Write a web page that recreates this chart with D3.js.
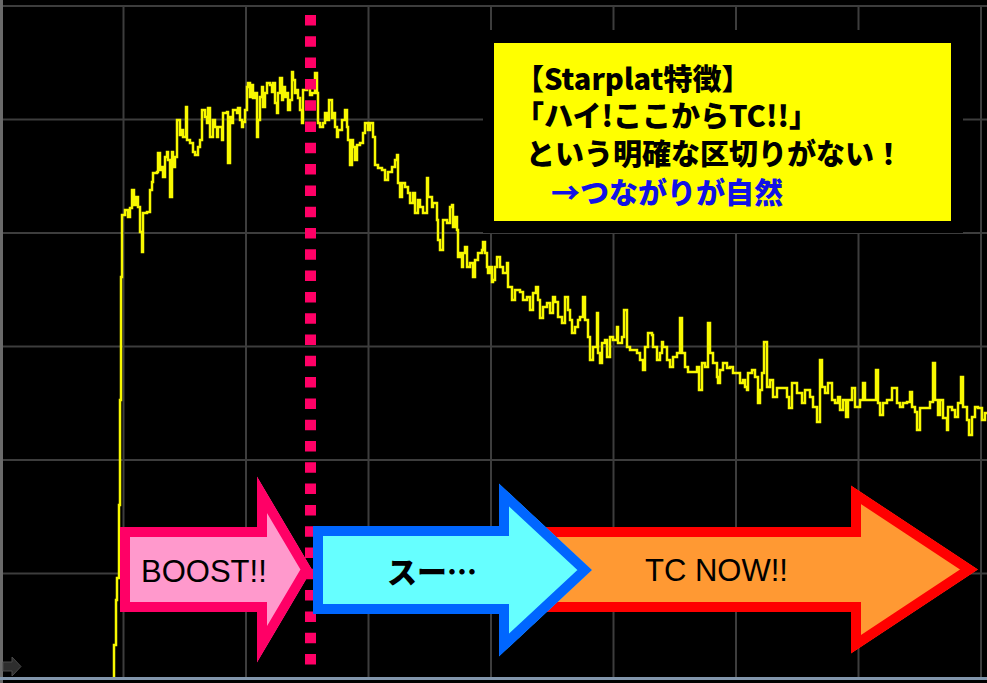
<!DOCTYPE html>
<html>
<head>
<meta charset="utf-8">
<script src="https://cdn.jsdelivr.net/npm/d3@7"></script>
<style>
  html, body { margin: 0; padding: 0; background: #000; }
  svg { display: block; }
</style>
</head>
<body>
<svg id="chart" width="987" height="683"></svg>
<script>
// ---------------- DATA ----------------
// Signal trace: [time, level] (arbitrary units)
const signal = [
  [112,7],[114,42],[116,87],[117,109],[119,182],[120,287],[121,410],[122,472],
  [125,477],[128,470],[130,479],[132,497],[134,482],[136,490],[138,480],[140,455],[142,435],[143,474],
  [147,475],[150,497],[152,505],[153,514],[157,515],[158,534],[160,517],[162,520],[163,510],[165,530],
  [167,535],[168,527],[170,490],[172,535],[173,520],[175,530],[177,567],[180,552],[182,557],[183,550],
  [186,580],[187,547],[190,544],[193,535],[195,532],[198,540],[200,547],[202,577],[205,570],[207,564],
  [208,579],[210,550],[213,567],[215,560],[217,550],[218,560],[222,547],[223,574],[227,575],[228,524],
  [230,570],[232,564],[233,577],[237,574],[238,579],[240,567],[242,560],[243,565],[245,577],[247,600],
  [248,604],[250,590],[252,602],[253,589],[255,594],[257,550],[258,567],[260,590],[262,600],[263,580],
  [265,594],[267,604],[270,602],[272,595],[273,604],[275,584],[277,574],[278,594],[280,609],[282,587],
  [283,600],[285,590],[287,594],[288,577],[290,587],[292,615],[293,607],[295,594],[297,597],[298,589],
  [300,577],[302,564],[303,597],[307,600],[310,592],[312,594],[315,614],[317,594],[318,564],[320,560],
  [323,564],[325,574],[327,567],[329,587],[332,569],[333,574],[335,560],[337,550],[338,557],[342,567],
  [345,577],[347,560],[348,547],[350,522],[352,547],[353,540],[355,527],[357,542],[360,544],[363,554],
  [365,564],[368,557],[370,564],[373,550],[375,522],[378,519],[382,517],[385,507],[388,515],[392,520],
  [395,527],[397,532],[398,504],[400,490],[402,504],[405,500],[408,494],[410,484],[413,494],[415,474],
  [418,487],[420,480],[423,474],[427,509],[428,490],[432,480],[433,484],[437,467],[438,447],[440,437],
  [443,467],[447,464],[450,480],[452,482],[453,460],[455,470],[457,457],[458,430],[460,434],[462,420],
  [463,434],[465,440],[467,420],[470,424],[473,410],[475,427],[478,434],[482,437],[483,445],[485,434],
  [487,420],[488,414],[490,420],[492,405],[493,407],[495,420],[497,430],[500,420],[503,414],[507,424],
  [508,400],[510,400],[512,387],[515,397],[520,395],[523,387],[527,390],[530,377],[533,394],[536,400],
  [538,387],[540,369],[543,380],[547,384],[550,374],[553,390],[555,385],[558,370],[562,364],[565,390],
  [568,377],[570,367],[572,354],[575,360],[578,367],[580,370],[583,390],[585,367],[588,350],[590,327],
  [593,340],[597,374],[598,334],[600,324],[602,344],[605,347],[607,330],[610,350],[613,347],[617,360],
  [618,344],[622,350],[624,377],[627,340],[630,337],[633,337],[637,334],[640,327],[643,317],[645,340],
  [648,354],[652,352],[653,340],[657,327],[660,334],[662,345],[663,340],[667,327],[670,320],[673,330],
  [677,334],[680,369],[682,334],[685,320],[688,315],[693,315],[697,320],[699,297],[702,324],[705,320],
  [708,364],[710,334],[713,324],[717,310],[718,304],[720,317],[723,324],[727,319],[730,320],[733,314],
  [737,314],[740,304],[743,307],[745,300],[747,297],[748,314],[752,317],[755,310],[758,284],[760,297],
  [762,314],[764,345],[767,300],[770,307],[773,290],[777,299],[783,299],[787,290],[789,279],[792,304],
  [797,294],[802,284],[805,297],[810,290],[813,280],[817,265],[820,327],[822,300],[825,294],[828,304],
  [832,287],[835,284],[838,290],[840,277],[843,287],[846,270],[848,287],[852,299],[855,280],[860,287],
  [863,304],[865,287],[870,287],[873,287],[876,317],[878,284],[880,272],[883,284],[887,287],[892,299],
  [895,299],[897,284],[900,280],[903,284],[907,285],[910,295],[912,280],[915,275],[917,257],[920,279],
  [927,279],[930,285],[933,324],[935,287],[938,272],[940,287],[943,269],[947,257],[948,280],[952,277],
  [955,270],[958,284],[961,310],[963,280],[967,267],[969,252],[972,270],[975,280],[978,279],[982,267],
  [985,274],[987,275]
];

// grid tick values
const timeTicks  = [123.5, 246, 368.5, 491, 613.5, 736, 858.5, 981];
const levelTicks = [113.5, 227, 340.5, 454, 567.5, 681];

// phase transition marker (time)
const transitionTime = 310.5;

// phases shown as arrows (time extents)
const phaseLabels = ["BOOST!!", "スー…", "TC NOW!!"];
const phaseStart  = [120, 313, 540];
const phaseEnd    = [312, 592, 978];

// annotation text
const noteLines = ["【Starplat特徴】", "「ハイ!ここからTC!!」", "という明確な区切りがない！", "→つながりが自然"];

// ---------------- CHART ----------------
const W = 987, H = 683;
const svg = d3.select("#chart");
const x = d3.scaleLinear().domain([0, 987]).range([0, 987]);
const y = d3.scaleLinear().domain([0, 681]).range([687, 6]);

svg.append("rect").attr("width", W).attr("height", H).attr("fill", "#000");

const defs = svg.append("defs");
defs.append("clipPath").attr("id", "plotClip")
  .append("rect").attr("x", 3).attr("y", 0).attr("width", W).attr("height", 677);

// grid
const grid = svg.append("g");
grid.selectAll("line.v").data(timeTicks).join("line")
  .attr("x1", d => x(d)).attr("x2", d => x(d))
  .attr("y1", 6).attr("y2", 678)
  .attr("stroke", "#3d3d3d").attr("stroke-width", 2);
grid.selectAll("line.h").data(levelTicks).join("line")
  .attr("x1", 3).attr("x2", W)
  .attr("y1", d => y(d)).attr("y2", d => y(d))
  .attr("stroke", "#3d3d3d").attr("stroke-width", 2);
// left border
grid.append("line").attr("x1", 1.5).attr("x2", 1.5).attr("y1", 0).attr("y2", 683)
  .attr("stroke", "#6a6a6a").attr("stroke-width", 3);
// bottom axis line
grid.append("line").attr("x1", 0).attr("x2", W).attr("y1", 678.5).attr("y2", 678.5)
  .attr("stroke", "#8296ac").attr("stroke-width", 3);

// signal trace
const lineGen = d3.line().x(d => x(d[0])).y(d => y(d[1])).curve(d3.curveStepAfter);
svg.append("path").datum(signal)
  .attr("clip-path", "url(#plotClip)")
  .attr("d", lineGen)
  .attr("fill", "none")
  .attr("stroke", "#f8f800")
  .attr("stroke-width", 2.5)
  .attr("stroke-linejoin", "miter");

// small corner icon
svg.append("path")
  .attr("d", "M3,662 L12,662 L12,657 L21,666.5 L12,676 L12,671 L3,671 Z")
  .attr("fill", "#2e2e2e").attr("stroke", "#4a4a4a").attr("stroke-width", 1);

// annotation box
svg.append("rect").attr("x", 483).attr("y", 30).attr("width", 480).attr("height", 203).attr("fill", "#000");
svg.append("rect").attr("x", 493).attr("y", 42).attr("width", 459).attr("height", 180)
  .attr("fill", "#ffff00").attr("stroke", "#000").attr("stroke-width", 2);

const noteX  = [515, 515, 526, 551];
const noteY  = [90, 127, 165, 204];
const noteC  = ["#000", "#000", "#000", "#1212e6"];
svg.selectAll("text.note").data(noteLines).join("text")
  .attr("class", "note")
  .attr("x", (d, i) => noteX[i]).attr("y", (d, i) => noteY[i])
  .attr("fill", (d, i) => noteC[i])
  .attr("font-family", "'Noto Sans CJK JP', sans-serif")
  .attr("font-weight", 900)
  .attr("font-size", 29)
  .text(d => d);

// arrows
const arrowCfg = [
  { cy: 569.5, sh: 42.5, hh: 93, hl: 55, border: "#ff0066", fill: "#ff99cc", tx: 141, ty: 582, font: "'Liberation Sans', Arial, sans-serif", weight: 400, size: 31 },
  { cy: 570,   sh: 44,   hh: 86.5, hl: 93, border: "#0066ff", fill: "#66ffff", tx: 387, ty: 583, font: "'Noto Sans CJK JP', sans-serif", weight: 900, size: 30 },
  { cy: 569.5, sh: 42.5, hh: 84, hl: 127, border: "#ff0000", fill: "#ff9933", tx: 645, ty: 581, font: "'Liberation Sans', Arial, sans-serif", weight: 400, size: 31 }
];
function arrowPts(x0, x1, c) {
  const hb = x1 - c.hl;
  return [[x0, c.cy - c.sh], [hb, c.cy - c.sh], [hb, c.cy - c.hh], [x1, c.cy],
          [hb, c.cy + c.hh], [hb, c.cy + c.sh], [x0, c.cy + c.sh]];
}
function drawArrow(i) {
  const c = arrowCfg[i];
  const pts = arrowPts(x(phaseStart[i]), x(phaseEnd[i]), c);
  const d = "M" + pts.map(p => p.join(",")).join("L") + "Z";
  defs.append("clipPath").attr("id", "arrowClip" + i).append("path").attr("d", d);
  const g = svg.append("g");
  g.append("path").attr("d", d)
    .attr("fill", c.fill).attr("stroke", c.border).attr("stroke-width", 20)
    .attr("stroke-linejoin", "miter").attr("stroke-miterlimit", 20)
    .attr("clip-path", "url(#arrowClip" + i + ")");
  g.append("text").attr("x", c.tx).attr("y", c.ty)
    .attr("font-family", c.font).attr("font-weight", c.weight).attr("font-size", c.size)
    .attr("fill", "#000").text(phaseLabels[i]);
}
drawArrow(0);

// transition marker
svg.append("line")
  .attr("x1", x(transitionTime)).attr("x2", x(transitionTime))
  .attr("y1", 15).attr("y2", 666)
  .attr("stroke", "#ff0066").attr("stroke-width", 11)
  .attr("stroke-dasharray", "10.5 10.8");

drawArrow(2);
drawArrow(1);
</script>
</body>
</html>
